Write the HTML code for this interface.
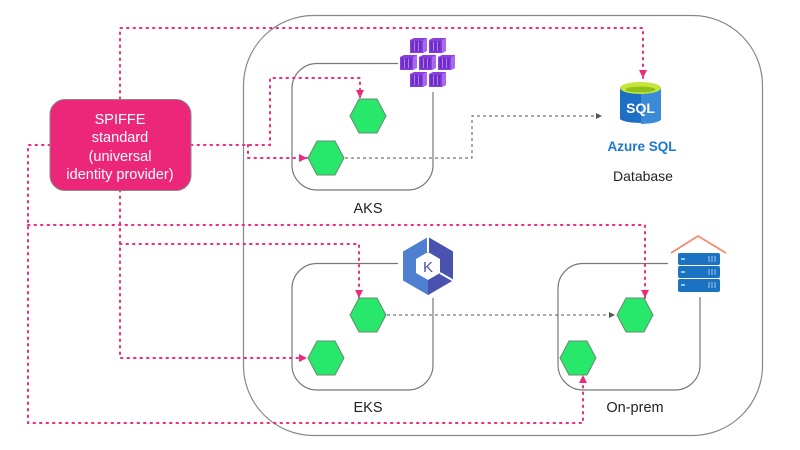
<!DOCTYPE html>
<html><head><meta charset="utf-8"><style>html,body{margin:0;padding:0;background:#fff}svg{display:block}</style></head>
<body>
<svg width="800" height="450" viewBox="0 0 800 450" xmlns="http://www.w3.org/2000/svg" font-family="Liberation Sans, Arial, sans-serif">
<defs>
<marker id="pa" viewBox="0 0 10 10" refX="10" refY="5" markerWidth="8" markerHeight="8" markerUnits="userSpaceOnUse" orient="auto"><path d="M0,0L10,5L0,10z" fill="#ee2a7b"/></marker>
<marker id="ga" viewBox="0 0 10 10" refX="10" refY="5" markerWidth="6" markerHeight="6" markerUnits="userSpaceOnUse" orient="auto"><path d="M0,0L10,5L0,10z" fill="#555"/></marker>
<g id="hex"><polygon points="-18,0 -9,-17 9,-17 18,0 9,17 -9,17" fill="#27e86a" stroke="#6a8a70" stroke-width="1"/></g>
<g id="cube"><path d="M0,2 L4,0 L17,0 L17,13 L13,15 L0,15Z" fill="#8a3ee0"/><path d="M13,2 L17,0 L17,13 L13,15Z" fill="#a868f0"/><rect x="1.5" y="3" width="10" height="10.5" fill="#6a2bc0"/><path d="M4.5,3.5v9.5M8.5,3.5v9.5" stroke="#b078ff" stroke-width="1.2"/></g>
</defs>

<rect x="243.5" y="15.5" width="519" height="420" rx="70" fill="none" stroke="#888" stroke-width="1.2"/>
<path d="M398,63.5 H317 A25,25 0 0 0 292,88.5 V165 A25,25 0 0 0 317,190 H408 A25,25 0 0 0 433,165 V92" fill="none" stroke="#777" stroke-width="1.2"/>
<path d="M398,263.5 H317 A25,25 0 0 0 292,288.5 V365 A25,25 0 0 0 317,390 H408 A25,25 0 0 0 433,365 V298" fill="none" stroke="#777" stroke-width="1.2"/>
<path d="M668,263.5 H583 A25,25 0 0 0 558,288.5 V365 A25,25 0 0 0 583,390 H675 A25,25 0 0 0 700,365 V297" fill="none" stroke="#777" stroke-width="1.2"/>

<g fill="none" stroke="#ee2a7b" stroke-width="2" stroke-dasharray="1.5,5" stroke-linecap="round">
<path d="M120,99 V28 H643 V78" marker-end="url(#pa)"/>
<path d="M191,145 H270 V78 H360 V98" marker-end="url(#pa)"/>
<path d="M248,145 V158 H307" marker-end="url(#pa)"/>
<path d="M50,145 H28 V423 H583 V375" marker-end="url(#pa)"/>
<path d="M28,225 H645 V298" marker-end="url(#pa)"/>
<path d="M120,190 V358 H307" marker-end="url(#pa)"/>
<path d="M120,244 H359 V298" marker-end="url(#pa)"/>
</g>
<g fill="none" stroke="#555" stroke-width="1" stroke-dasharray="3,3">
<path d="M345,158 H472 V116 H602" marker-end="url(#ga)"/>
<path d="M387,315 H615" marker-end="url(#ga)"/>
</g>

<rect x="50" y="99.5" width="141" height="91" rx="15" fill="#ec2779" stroke="#888" stroke-width="1"/>
<g fill="#fff" font-size="14.5" text-anchor="middle">
<text x="120" y="124">SPIFFE</text>
<text x="120" y="142">standard</text>
<text x="120" y="161">(universal</text>
<text x="120" y="179">identity provider)</text>
</g>

<use href="#hex" x="368" y="116"/>
<use href="#hex" x="326" y="158"/>
<use href="#hex" x="368" y="315"/>
<use href="#hex" x="326" y="358"/>
<use href="#hex" x="635" y="315"/>
<use href="#hex" x="578" y="358"/>

<use href="#cube" x="410" y="38"/><use href="#cube" x="429" y="38"/>
<use href="#cube" x="400" y="55"/><use href="#cube" x="419" y="55"/><use href="#cube" x="438" y="55"/>
<use href="#cube" x="410" y="72"/><use href="#cube" x="429" y="72"/>

<polygon points="428,237 453,251.5 453,280.5 428,295 403,280.5 403,251.5" fill="#4f7fd0"/>
<polygon points="428,237 453,251.5 453,280.5 428,295" fill="#4a52b0"/>
<polygon points="428,252 440,259 440,273 428,280 416,273 416,259" fill="#fff"/>
<path d="M428,237 V252 M453,280.5 L440,273" stroke="#fff" stroke-width="2"/>
<text x="428" y="272" font-size="15" fill="#4a52b0" text-anchor="middle">K</text>

<path d="M620,88 V119 A21,5 0 0 0 661,119 V88Z" fill="#1c6fc4"/>
<path d="M641,93 V124 A21,5 0 0 0 661,119 V88Z" fill="#3a8ad8"/>
<ellipse cx="640.5" cy="88" rx="20.5" ry="6" fill="#c4e63a"/>
<ellipse cx="640.5" cy="89.5" rx="15" ry="3" fill="#8ec21a"/>
<text x="640.5" y="113" font-size="14" font-weight="bold" fill="#fff" text-anchor="middle">SQL</text>
<text x="642" y="151" font-size="13.5" font-weight="bold" fill="#1c78d0" text-anchor="middle">Azure SQL</text>
<text x="643" y="181" font-size="14" fill="#222" text-anchor="middle">Database</text>

<path d="M671,253 L698,236 L726,253" fill="none" stroke="#f58a6a" stroke-width="1.8"/>
<rect x="678" y="253" width="42" height="12" rx="2" fill="#1a72c0"/>
<rect x="678" y="266" width="42" height="12" rx="2" fill="#1a72c0"/>
<rect x="678" y="279" width="42" height="13" rx="2" fill="#1a72c0"/>
<g stroke="#9cc8f0" stroke-width="1"><path d="M709,256v6M712,256v6M715,256v6M709,269v6M712,269v6M715,269v6M709,282v6M712,282v6M715,282v6"/></g>
<g fill="#9cc8f0"><rect x="681" y="258" width="4" height="2"/><rect x="681" y="271" width="4" height="2"/><rect x="681" y="284" width="4" height="2"/></g>

<g font-size="14.5" fill="#222" text-anchor="middle">
<text x="368" y="213">AKS</text>
<text x="368" y="412">EKS</text>
<text x="635" y="412">On-prem</text>
</g>
</svg>
</body></html>
